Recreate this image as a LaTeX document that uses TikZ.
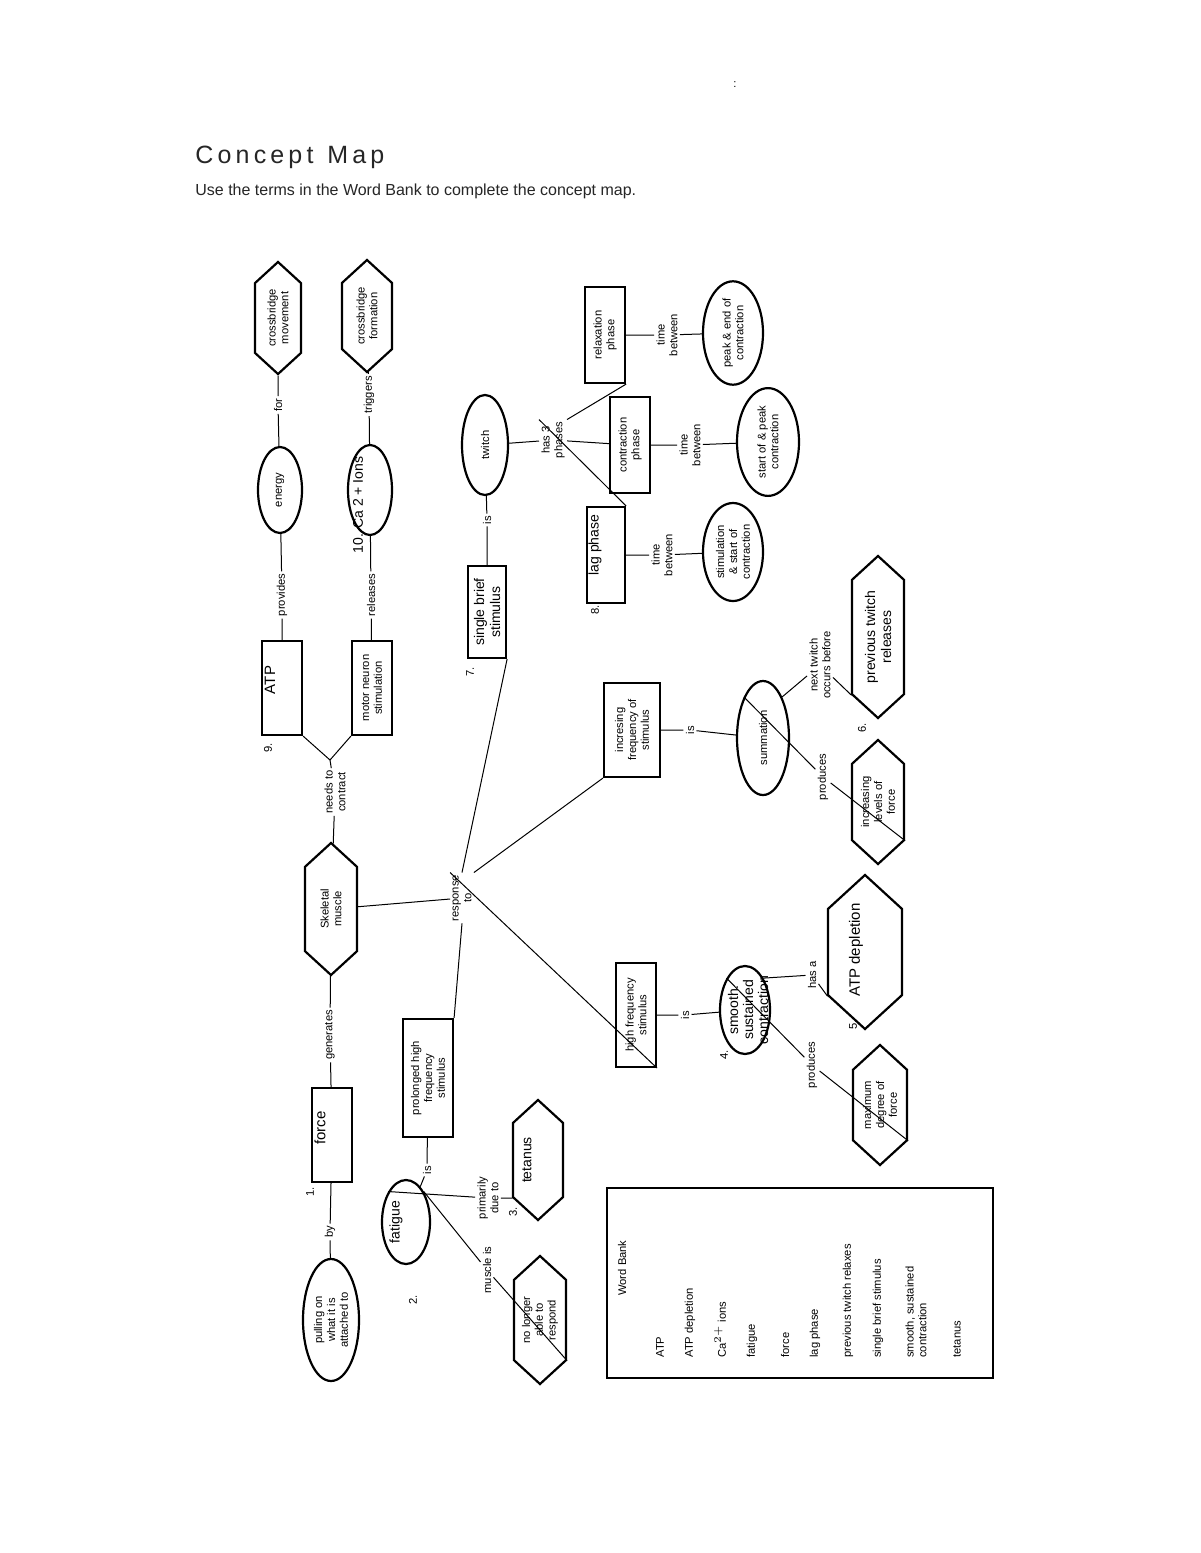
\documentclass[tikz,border=0pt]{standalone}
\usepackage{fontspec}
\setmainfont{Liberation Sans}
\usetikzlibrary{shapes.geometric,shapes.symbols}
\newcommand{\fs}{\fontsize{5.6}{6.4}\selectfont}
\begin{document}
\begin{tikzpicture}[x=0.5pt,y=-0.5pt,
  every node/.style={font=\fs,inner sep=1pt,align=center},
  lab/.style={rotate=90},
  bx/.style={draw,line width=1.1pt,rotate=90},
  ov/.style={draw,ellipse,line width=1.1pt,rotate=90},
  hx/.style={draw,signal,signal to=east and west,signal pointer angle=95,line width=1.1pt,rotate=90},
  ln/.style={line width=0.5pt}]
\useasboundingbox[fill=white] (0,0) rectangle (1200,1553);
\node[anchor=west,font=\fontsize{12.5}{14}\selectfont,text=black!85] (title) at (193,157) {C\,o\,n\,c\,e\,p\,t \ M\,a\,p};
\node[anchor=west,font=\fontsize{8}{9}\selectfont,text=black!85] (sub) at (193,191) {Use the terms in the Word Bank to complete the concept map.};
\node (colon) at (735,85) {:};
% top rows
\node[hx,minimum width=56pt,minimum height=23pt] (cbm) at (278,318) {crossbridge\\movement};
\node[hx,minimum width=56pt,minimum height=25pt] (cbf) at (367,316) {crossbridge\\formation};
\node[lab] (for) at (278,405) {for};
\node[lab] (trig) at (369,395) {triggers};
\node[ov,minimum width=43pt,minimum height=22pt] (energy) at (280,490) {energy};
\node[ov,minimum width=45pt,minimum height=22pt] (ca) at (370,490) {};
\node[lab,font=\fontsize{7}{8}\selectfont] (catext) at (358,505) {10. Ca 2 + Ions};
\node[lab] (prov) at (282,595) {provides};
\node[lab] (rel) at (371,595) {releases};
\node[bx,minimum width=47pt,minimum height=20pt] (atp) at (282,688) {};
\node[lab,font=\fontsize{7.5}{8}\selectfont] (atpt) at (270,680) {ATP};
\node[bx,minimum width=47pt,minimum height=20pt] (mns) at (372,688) {motor neuron\\stimulation};
\node[lab] (n9) at (268,748) {9.};
\coordinate (vj) at (330,760);
\node[lab] (needs) at (335,792) {needs to\\contract};
\node[hx,minimum width=66pt,minimum height=26pt] (skel) at (331,909) {Skeletal\\muscle};
\node[lab] (gen) at (330,1035) {generates};
\node[bx,minimum width=47pt,minimum height=20pt] (force) at (332,1135) {};
\node[lab,font=\fontsize{7.5}{8}\selectfont] (forcet) at (320,1128) {force};
\node[lab] (n1) at (310,1192) {1.};
\node[lab] (by) at (330,1232) {by};
\node[ov,minimum width=61pt,minimum height=28pt] (pull) at (331,1320) {pulling on\\what it is\\attached to};
\draw[ln] (cbm) -- (for) -- (energy) -- (prov) -- (atp);
\draw[ln] (cbf) -- (trig) -- (ca) -- (rel) -- (mns);
\draw[ln] (atp.south west) -- (vj) -- (mns.north west);
\draw[ln] (vj) -- (needs) -- (skel) -- (gen) -- (force) -- (by) -- (pull);
% response
\node[lab] (resp) at (462,898) {response\\to};
\draw[ln] (skel) -- (resp);
\node[bx,minimum width=46pt,minimum height=19pt,font=\fontsize{7}{8}\selectfont] (sbs) at (487,612) {single brief\\stimulus};
\node[lab] (n7) at (470,672) {7.};
\node[lab] (is1) at (487,520) {is};
\node[ov,minimum width=50pt,minimum height=23pt] (twitch) at (485,445) {twitch};
\node[lab] (has3) at (553,440) {has 3\\phases};
\node[bx,minimum width=48pt,minimum height=20pt] (relax) at (605,335) {relaxation\\phase};
\node[bx,minimum width=48pt,minimum height=20pt] (contr) at (630,445) {contraction\\phase};
\node[bx,minimum width=48pt,minimum height=19pt] (lag) at (606,555) {};
\node[lab,font=\fontsize{7}{8}\selectfont] (lagt) at (595,545) {lag phase};
\node[lab] (n8) at (595,610) {8.};
\node[lab] (tb1) at (667,335) {time\\between};
\node[lab] (tb2) at (690,445) {time\\between};
\node[lab] (tb3) at (662,555) {time\\between};
\node[ov,minimum width=51pt,minimum height=30pt] (pe) at (733,333) {peak \& end of\\contraction};
\node[ov,minimum width=50pt,minimum height=31pt] (sp) at (768,442) {start of \& peak\\contraction};
\node[ov,minimum width=49pt,minimum height=30pt] (ss) at (733,552) {stimulation\\\& start of\\contraction};
\draw[ln] (resp.east) -- (sbs.south west) ;
\draw[ln] (sbs) -- (is1) -- (twitch) -- (has3);
\draw[ln] (has3.south east) -- (relax.south west);
\draw[ln] (has3) -- (contr);
\draw[ln] (has3.north east) -- (lag.south east);
\draw[ln] (relax) -- (tb1) -- (pe);
\draw[ln] (contr) -- (tb2) -- (sp);
\draw[ln] (lag) -- (tb3) -- (ss);
% increasing frequency
\node[bx,minimum width=47pt,minimum height=28pt] (inc) at (632,730) {incresing\\frequency of\\stimulus};
\node[lab] (is2) at (690,730) {is};
\node[ov,minimum width=57pt,minimum height=26pt] (summ) at (763,738) {summation};
\node[lab] (next) at (820,665) {next twitch\\occurs before};
\node[hx,minimum width=81pt,minimum height=26pt,font=\fontsize{7}{8}\selectfont] (prev) at (878,637) {previous twitch\\releases};
\node[lab] (n6) at (862,728) {6.};
\node[lab] (prod1) at (823,777) {produces};
\node[hx,minimum width=62pt,minimum height=26pt] (ilf) at (878,802) {increasing\\levels of\\force};
\draw[ln] (resp.south east) -- (inc.north west);
\draw[ln] (inc) -- (is2) -- (summ);
\draw[ln] (summ.south east) -- (next) -- (prev.north west);
\draw[ln] (summ.north east) -- (prod1) -- (ilf.south west);
% high frequency
\node[bx,minimum width=52pt,minimum height=20pt] (hfs) at (636,1015) {high frequency\\stimulus};
\node[lab] (is3) at (685,1015) {is};
\node[ov,minimum width=44pt,minimum height=25pt] (smooth) at (745,1010) {};
\node[lab,font=\fontsize{7}{7.5}\selectfont] (smootht) at (748,1010) {smooth.\\sustained\\contraction};
\node[lab] (n4) at (724,1055) {4.};
\node[lab] (hasa) at (812,975) {has a};
\node[hx,minimum width=77pt,minimum height=37pt] (atpd) at (865,952) {};
\node[lab,font=\fontsize{7.5}{8}\selectfont] (atpdt) at (856,950) {ATP depletion};
\node[lab] (n5) at (853,1025) {5.};
\node[lab] (prod2) at (812,1065) {produces};
\node[hx,minimum width=60pt,minimum height=27pt] (max) at (880,1105) {maximum\\degree of\\force};
\draw[ln] (resp.north east) -- (hfs.south west);
\draw[ln] (hfs) -- (is3) -- (smooth);
\draw[ln] (smooth.south east) -- (hasa) -- (atpd.north west);
\draw[ln] (smooth.north east) -- (prod2) -- (max.south west);
% prolonged
\node[bx,minimum width=59pt,minimum height=25pt] (phf) at (428,1078) {prolonged high\\frequency\\stimulus};
\node[lab] (is4) at (427,1170) {is};
\node[ov,minimum width=42pt,minimum height=24pt] (fat) at (406,1222) {};
\node[lab,font=\fontsize{7}{8}\selectfont] (fatt) at (396,1222) {fatigue};
\node[lab] (n2) at (413,1300) {2.};
\node[lab] (prim) at (488,1198) {primarily\\due to};
\node[hx,minimum width=60pt,minimum height=25pt] (tet) at (538,1160) {};
\node[lab,font=\fontsize{7}{8}\selectfont] (tett) at (527,1160) {tetanus};
\node[lab] (n3) at (513,1212) {3.};
\node[lab] (musc) at (487,1270) {muscle is};
\node[hx,minimum width=64pt,minimum height=26pt] (nol) at (540,1320) {no longer\\able to\\respond};
\draw[ln] (resp.west) -- (phf.south east);
\draw[ln] (phf) -- (is4) -- (fat);
\draw[ln] (fat.north east) -- (prim) -- (tet.north west);
\draw[ln] (fat.south east) -- (musc) -- (nol.south west);
% word bank
\draw[line width=1.1pt] (607,1188) rectangle (993,1378);
\node[lab,anchor=west] (wb) at (622,1298) {Word Bank};
\foreach \x/\t/\n in {660/ATP/w1,690/ATP depletion/w2,720/Ca$^{2+}$ ions/w3,752/fatigue/w4,785/force/w5,815/lag phase/w6,848/previous twitch relaxes/w7,878/single brief stimulus/w8,957/tetanus/w10}
  \node[lab,anchor=west] (\n) at (\x,1360) {\t};
\node[lab,anchor=west,align=left] (w9) at (916,1360) {smooth, sustained\\contraction};
\end{tikzpicture}
\end{document}
